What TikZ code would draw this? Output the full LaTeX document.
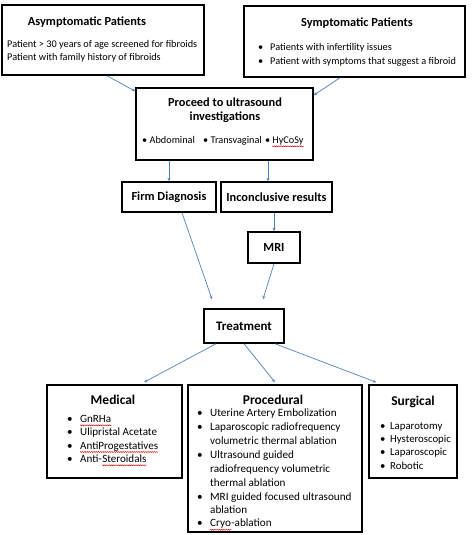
\documentclass[tikz,border=0pt]{standalone}
\usepackage{fontspec}
\setmainfont{Carlito}
\usetikzlibrary{arrows.meta,decorations.pathmorphing}
\definecolor{arr}{RGB}{79,129,189}
\begin{document}
\begin{tikzpicture}[x=1bp,y=-1bp,
  bx/.style={draw=black,line width=1.5bp,inner sep=0},
  tx/.style={font=\fontsize{10.3}{13}\selectfont,inner sep=0,text height=.7em,text depth=.2em,anchor=west},
  mtx/.style={tx,font=\fontsize{11.1}{13}\selectfont},
  ptx/.style={tx,font=\fontsize{11.2}{13}\selectfont},
  stx/.style={tx,font=\fontsize{10.8}{13}\selectfont},
  ttl/.style={font=\bfseries\fontsize{12.4}{14}\selectfont,inner sep=0},
  bigttl/.style={font=\bfseries\fontsize{13.5}{15}\selectfont,inner sep=0},
  conn/.style={draw=arr,line width=.7bp,-{Stealth[length=3.5bp,width=3bp]}},
  sp/.style={draw=red!85!black,line width=.4bp,decorate,decoration={snake,amplitude=.5bp,segment length=1.8bp}}]
\useasboundingbox (0,0) rectangle (474,535);
% boxes
\node[bx,minimum width=202bp,minimum height=70bp] (asym) at (103,40) {};
\node[bx,minimum width=221bp,minimum height=71bp] (symp) at (354.5,41.5) {};
\node[bx,minimum width=177bp,minimum height=72bp] (proc) at (224.5,124) {};
\node[bx,minimum width=94bp,minimum height=30bp] (firm) at (169,197) {};
\node[bx,minimum width=111bp,minimum height=30bp] (inc) at (276.5,197) {};
\node[bx,minimum width=52bp,minimum height=31bp] (mri) at (274,247.5) {};
\node[bx,minimum width=80bp,minimum height=34bp] (treat) at (244,326) {};
\node[bx,minimum width=135bp,minimum height=93bp] (med) at (114.5,431.5) {};
\node[bx,minimum width=174bp,minimum height=147bp] (pcd) at (275,458.5) {};
\node[bx,minimum width=88bp,minimum height=93bp] (surg) at (413,431.5) {};
% asymptomatic
\node[ttl] (asymT) at (87,22) {Asymptomatic Patients};
\node[tx] (a1) at (7,45) {Patient > 30 years of age screened for fibroids};
\node[tx] (a2) at (7,58) {Patient with family history of fibroids};
% symptomatic
\node[ttl] (sympT) at (357,23) {Symptomatic Patients};
\node[tx] (sb1) at (258,48) {•};
\node[tx] (s1) at (270,48) {Patients with infertility issues};
\node[tx] (sb2) at (258,62) {•};
\node[tx] (s2) at (270,62) {Patient with symptoms that suggest a fibroid};
% proceed
\node[ttl,align=center] (procT) at (225,110) {Proceed to ultrasound\\investigations};
\node[tx] (p1) at (142,141) {• Abdominal};
\node[tx] (p2) at (203,141) {• Transvaginal};
\node[tx] (p3) at (265,141) {•\,};
\node[tx,anchor=base west] (p3w) at (p3.base east) {HyCoSy};
% middle
\node[ttl] (firmT) at (firm.center) {Firm Diagnosis};
\node[ttl] (incT) at (inc.center) {Inconclusive results};
\node[ttl] (mriT) at (mri.center) {MRI};
\node[ttl,font=\bfseries\fontsize{13}{15}\selectfont] (treatT) at (treat.center) {Treatment};
% medical
\node[bigttl] (medT) at (113,399.5) {Medical};
\node[mtx] (mb1) at (67,420) {•};
\node[mtx] (m1) at (80,420) {GnRHa};
\node[mtx] (mb2) at (67,433.3) {•};
\node[mtx] (m2) at (80,433.3) {Ulipristal Acetate};
\node[mtx] (mb3) at (67,446.7) {•};
\node[mtx] (m3) at (80,446.7) {AntiProgestatives};
\node[mtx] (mb4) at (67,460) {•};
\node[mtx] (m4a) at (80,460) {Anti-};
\node[mtx,anchor=base west] (m4b) at (m4a.base east) {Steroidals};
% procedural
\node[bigttl] (pcdT) at (273,400) {Procedural};
\node[ptx] (qb1) at (197,414) {•};
\node[ptx] (q1) at (210,414) {Uterine Artery Embolization};
\node[ptx] (qb2) at (197,428.5) {•};
\node[ptx] (q2) at (210,428.5) {Laparoscopic radiofrequency};
\node[ptx] (q3) at (210,442.5) {volumetric thermal ablation};
\node[ptx] (qb4) at (197,456.5) {•};
\node[ptx] (q4) at (210,456.5) {Ultrasound guided};
\node[ptx] (q5) at (210,470.3) {radiofrequency volumetric};
\node[ptx] (q6) at (210,484) {thermal ablation};
\node[ptx] (qb7) at (197,498) {•};
\node[ptx] (q7) at (210,498) {MRI guided focused ultrasound};
\node[ptx] (q8) at (210,511.5) {ablation};
\node[ptx] (qb9) at (197,524.5) {•};
\node[ptx] (q9a) at (210,524.5) {Cryo};
\node[ptx,anchor=base west] (q9b) at (q9a.base east) {-ablation};
% surgical
\node[bigttl] (surgT) at (413,401.5) {Surgical};
\node[stx] (rb1) at (380,426.7) {•};
\node[stx] (r1) at (390,426.7) {Laparotomy};
\node[stx] (rb2) at (380,440) {•};
\node[stx] (r2) at (390,440) {Hysteroscopic};
\node[stx] (rb3) at (380,453) {•};
\node[stx] (r3) at (390,453) {Laparoscopic};
\node[stx] (rb4) at (380,466.7) {•};
\node[stx] (r4) at (390,466.7) {Robotic};
% spelling underlines
\foreach \w in {p3w,m1,m3,m4b,q9a}{
  \draw[sp] ([yshift=-.6bp]\w.south west) -- ([yshift=-.6bp]\w.south east);
}
% connectors
\draw[conn] ([xshift=4bp]asym.south) -- ([yshift=-4bp]proc.north west);
\draw[conn] ([xshift=-14.5bp]symp.south) -- ([yshift=-8bp]proc.north east);
\draw[conn] (firm.north |- proc.south) -- (firm.north);
\coordinate (incin) at ([xshift=-8.5bp]inc.north);
\draw[conn] (incin |- proc.south) -- (incin);
\draw[conn] (mri.north |- inc.south) -- (mri.north);
\draw[conn] ([xshift=13bp]firm.south) -- ([xshift=-32bp,yshift=9bp]treat.north);
\draw[conn] (mri.south) -- ([xshift=19bp,yshift=9bp]treat.north);
\draw[conn] ([xshift=-28bp]treat.south) -- ([xshift=29.5bp,yshift=2bp]med.north);
\draw[conn] (treat.south) -- ([yshift=2bp]pcd.north);
\draw[conn] ([xshift=31bp]treat.south) -- ([xshift=8bp,yshift=2bp]surg.north west);
\end{tikzpicture}
\end{document}
